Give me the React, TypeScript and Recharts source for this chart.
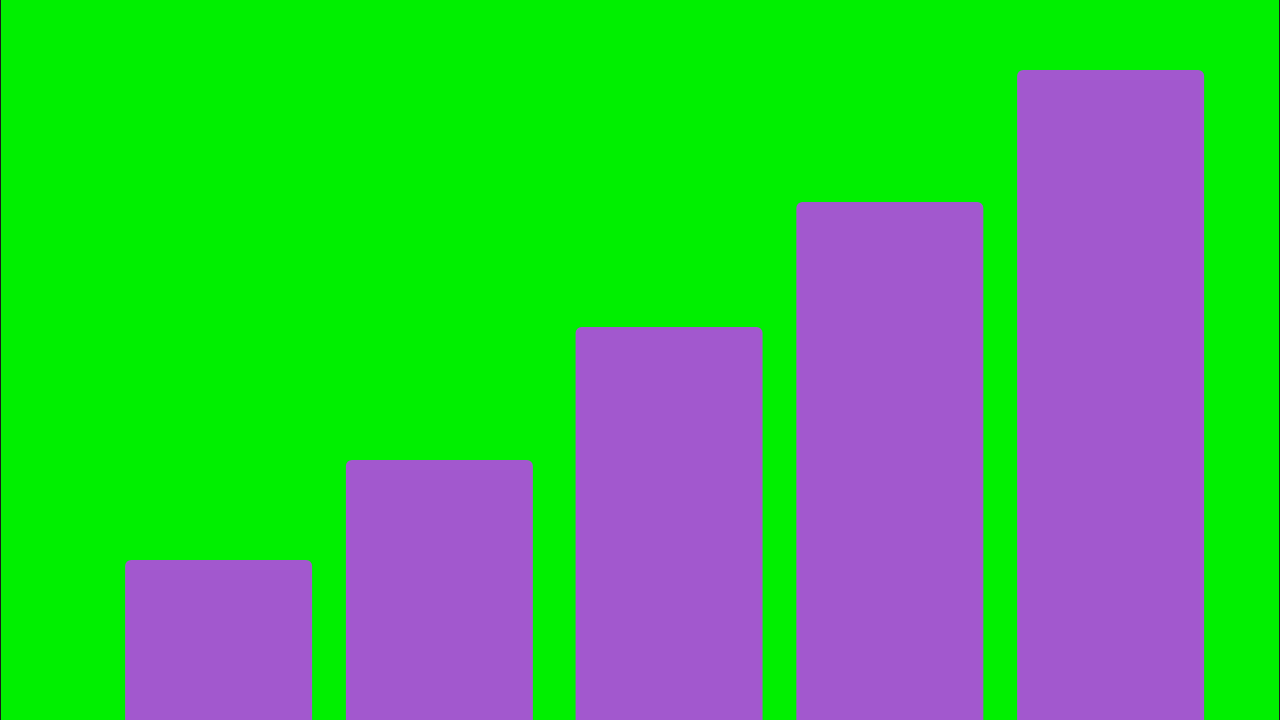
import { BarChart, Bar, XAxis, YAxis } from "recharts";

// category slots (spacing is slightly uneven)
const positions = [0, 0.99, 2.02, 3.01, 4];
const values = [1.6, 2.6, 3.93, 5.18, 6.5];
const yMax = 7.2;

const data = positions.map((pos, i) => ({ pos, value: values[i] }));

export default function App() {
  return (
    <div
      style={{
        position: "fixed",
        left: 0,
        top: 0,
        width: 1280,
        height: 720,
        background: "#00F000",
        overflow: "hidden",
      }}
    >
      <BarChart width={1280} height={720} data={data} margin={{ top: 0, right: 58, bottom: 0, left: 107 }}>
        <XAxis dataKey="pos" type="number" domain={[-0.5, 4.5]} hide />
        <YAxis hide domain={[0, yMax]} />
        <Bar dataKey="value" fill="#A258CE" barSize={187} radius={[6, 6, 0, 0]} isAnimationActive={false} />
      </BarChart>
      <div
        style={{
          position: "absolute",
          inset: 0,
          borderLeft: "1px solid #1a1a1a",
          borderRight: "1px solid #1a1a1a",
          pointerEvents: "none",
        }}
      />
    </div>
  );
}
